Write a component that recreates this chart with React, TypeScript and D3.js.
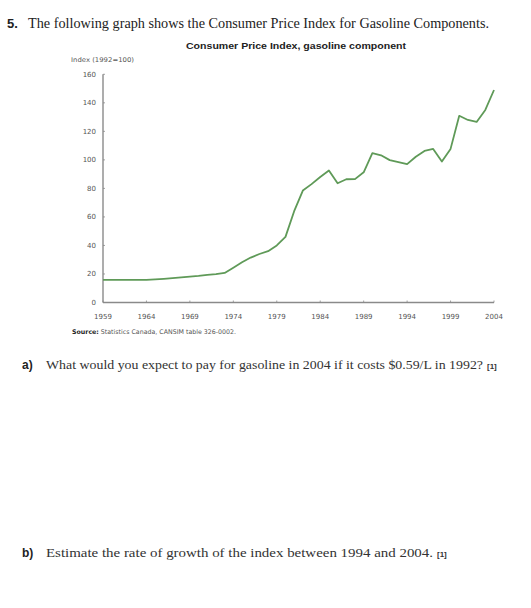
import * as d3 from "d3";
import React from "react";

// annual gasoline CPI (1992=100)
const years: number[] = d3.range(1959, 2005);
const cpiValues: number[] = [
    15.8, 15.8, 15.8, 15.8, 15.8, 15.8, 16.2, 16.6, 17.1, 17.6,
    18.1, 18.6, 19.3, 19.9, 20.7, 24.4, 28.2, 31.5, 34.0, 36.0,
    40.0, 46.0, 64.0, 78.5, 83.0, 88.0, 92.5, 83.6, 86.4, 86.5,
    91.3, 104.7, 103.2, 99.8, 98.5, 97.0, 102.2, 106.3, 107.7, 98.8,
    107.7, 130.9, 128.0, 126.6, 135.0, 149.0
];
const yTicks: number[] = [0, 20, 40, 60, 80, 100, 120, 140, 160];
const xTicks: number[] = [1959, 1964, 1969, 1974, 1979, 1984, 1989, 1994, 1999, 2004];

const serif = "'Liberation Serif', 'DejaVu Serif', serif";
const sans = "'Liberation Sans', Arial, sans-serif";
const small = "'DejaVu Sans', Verdana, sans-serif";

export default function App() {
    const margin = { left: 103, right: 494, top: 74.3, bottom: 302.5 };

    const x = d3.scaleLinear().domain([1959, 2004]).range([margin.left, margin.right]);
    const y = d3.scaleLinear().domain([0, 160]).range([margin.bottom, margin.top]);

    const line = d3.line<number>()
        .x((_, i) => x(years[i]))
        .y(d => y(d));

    const axisColor = "#8a8a8a";
    const labelColor = "#555";

    return (
        <svg width={531} height={608} style={{ position: "absolute", left: 0, top: 0, background: "#fff" }}>
            <rect x={0} y={0} width={531} height={608} fill="#fff" />

            <text x={7} y={28} fontFamily={sans} fontWeight="bold" fontSize={13} fill="#222">5.</text>
            <text x={28} y={28} fontFamily={serif} fontSize={14.5} fill="#222"
                textLength={461} lengthAdjust="spacingAndGlyphs">
                The following graph shows the Consumer Price Index for Gasoline Components.
            </text>

            <text x={296} y={48.5} textAnchor="middle" fontFamily={sans} fontWeight="bold" fontSize={8.6} fill="#222"
                textLength={220} lengthAdjust="spacingAndGlyphs">
                Consumer Price Index, gasoline component
            </text>
            <text x={71} y={62} fontFamily={small} fontSize={6.5} fill={labelColor}
                textLength={63} lengthAdjust="spacingAndGlyphs">Index (1992=100)</text>

            {/* y axis */}
            <line x1={margin.left} x2={margin.left} y1={margin.top} y2={margin.bottom} stroke={axisColor} strokeWidth={1.4} />
            {yTicks.map(t => (
                <g key={"y" + t}>
                    <line x1={margin.left} x2={margin.left + 2} y1={y(t)} y2={y(t)} stroke={axisColor} strokeWidth={0.8} />
                    <text x={96} y={y(t) + 2.5} textAnchor="end" fontFamily={small} fontSize={7} fill={labelColor}>{t}</text>
                </g>
            ))}

            {/* x axis */}
            <line x1={margin.left} x2={margin.right} y1={margin.bottom} y2={margin.bottom} stroke={axisColor} strokeWidth={1.4} />
            {xTicks.map(t => (
                <g key={"x" + t}>
                    <line x1={x(t)} x2={x(t)} y1={margin.bottom} y2={margin.bottom - 2} stroke={axisColor} strokeWidth={0.8} />
                    <text x={x(t)} y={318.5} textAnchor="middle" fontFamily={small} fontSize={7} fill={labelColor}>{t}</text>
                </g>
            ))}

            <path d={line(cpiValues) || ""} fill="none" stroke="#5f9a58" strokeWidth={1.8} strokeLinejoin="round" />

            <text x={72} y={334} fontFamily={small} fontSize={6.4} fill={labelColor}
                textLength={164} lengthAdjust="spacingAndGlyphs">
                <tspan fontWeight="bold" fill="#222">Source:</tspan> Statistics Canada, CANSIM table 326-0002.
            </text>

            <text x={22} y={369} fontFamily={sans} fontWeight="bold" fontSize={12} fill="#222">a)</text>
            <text x={46} y={369} fontFamily={serif} fontSize={13.5} fill="#333"
                textLength={437} lengthAdjust="spacingAndGlyphs">
                What would you expect to pay for gasoline in 2004 if it costs $0.59/L in 1992?
            </text>
            <text x={487} y={369} fontFamily={sans} fontWeight="bold" fontSize={8} fill="#333">[1]</text>

            <text x={22} y={557} fontFamily={sans} fontWeight="bold" fontSize={12} fill="#222">b)</text>
            <text x={46} y={557} fontFamily={serif} fontSize={13.5} fill="#333"
                textLength={387} lengthAdjust="spacingAndGlyphs">
                Estimate the rate of growth of the index between 1994 and 2004.
            </text>
            <text x={437} y={557} fontFamily={sans} fontWeight="bold" fontSize={8} fill="#333">[1]</text>
        </svg>
    );
}
